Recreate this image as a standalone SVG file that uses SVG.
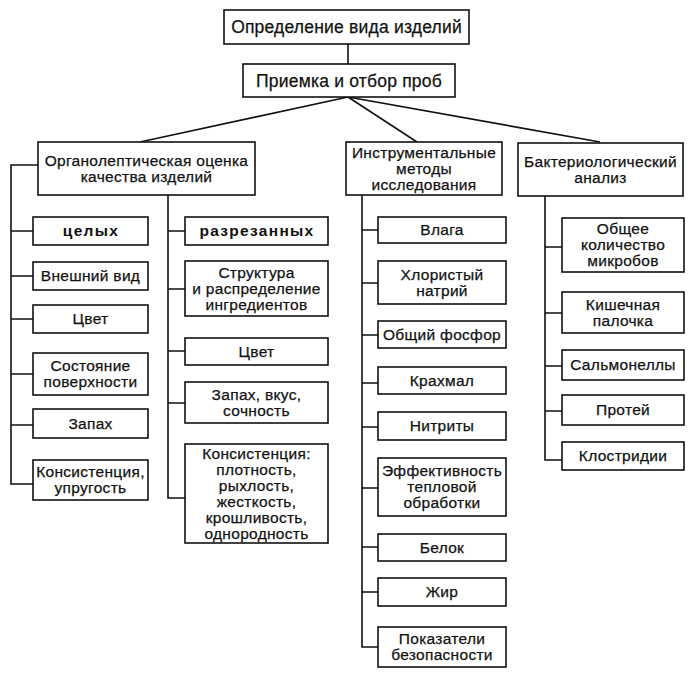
<svg xmlns="http://www.w3.org/2000/svg" width="696" height="674" viewBox="0 0 696 674">
<style>
rect{fill:#fff;stroke:#111;stroke-width:1.6}
text{font-family:"Liberation Sans",Arial,sans-serif;font-size:15.5px;letter-spacing:0.3px;fill:#111;stroke:#111;stroke-width:0.25;text-anchor:middle}
.big{font-size:17.5px;letter-spacing:0.2px}
.sp{font-weight:bold;letter-spacing:1.3px;stroke-width:0}
#connectors path{fill:none;stroke:#111;stroke-width:1.6}
</style>
<rect x="0" y="0" width="696" height="674" style="fill:#fff;stroke:none"/>
<g id="connectors">
<path d="M348,44V64"/>
<path d="M348,97L140,142M348,97L417,142M348,97L600,142"/>
<path d="M38,165H11V484H33M11,231H33M11,276H33M11,319H33M11,374H33M11,425H33"/>
<path d="M168,195V498H185M168,231H185M168,289H185M168,351H185M168,403H185"/>
<path d="M362,195V647H378M362,230H378M362,283H378M362,335H378M362,383H378M362,427H378M362,488H378M362,547H378M362,592H378"/>
<path d="M545,196V460H562M545,247H562M545,313H562M545,366H562M545,411H562"/>
</g>
<g id="n_top"><rect x="224" y="10" width="245" height="34"/><text class="big" x="346.5" y="33">Определение вида изделий</text></g>
<g id="n_priemka"><rect x="243" y="64" width="212" height="33"/><text class="big" x="349" y="87">Приемка и отбор проб</text></g>
<g id="n_organo"><rect x="38" y="142" width="217" height="53"/><text x="146.5" y="166">Органолептическая оценка</text><text x="146.5" y="182">качества изделий</text></g>
<g id="n_instr"><rect x="346" y="142" width="156" height="53"/><text x="424" y="158">Инструментальные</text><text x="424" y="174">методы</text><text x="424" y="190">исследования</text></g>
<g id="n_bakt"><rect x="518" y="143" width="165" height="53"/><text x="600.5" y="167">Бактериологический</text><text x="600.5" y="183">анализ</text></g>

<g id="n_celyh"><rect x="33" y="217" width="115" height="28"/><text class="sp" x="91" y="236">целых</text></g>
<g id="n_vneshniy"><rect x="33" y="262" width="115" height="28"/><text x="90.5" y="281">Внешний вид</text></g>
<g id="n_cvet1"><rect x="33" y="305" width="115" height="28"/><text x="90.5" y="324">Цвет</text></g>
<g id="n_sostoyanie"><rect x="33" y="353" width="115" height="42"/><text x="90.5" y="371">Состояние</text><text x="90.5" y="387">поверхности</text></g>
<g id="n_zapah1"><rect x="33" y="409" width="115" height="29"/><text x="90.5" y="428.5">Запах</text></g>
<g id="n_konsist1"><rect x="33" y="460" width="115" height="40"/><text x="90.5" y="477">Консистенция,</text><text x="90.5" y="493">упругость</text></g>

<g id="n_razrez"><rect x="185" y="217" width="143" height="28"/><text class="sp" x="257" y="236">разрезанных</text></g>
<g id="n_struktura"><rect x="185" y="261" width="143" height="55"/><text x="256.5" y="278">Структура</text><text x="256.5" y="294">и распределение</text><text x="256.5" y="310">ингредиентов</text></g>
<g id="n_cvet2"><rect x="185" y="338" width="143" height="27"/><text x="256.5" y="356.5">Цвет</text></g>
<g id="n_zapah2"><rect x="185" y="382" width="143" height="41"/><text x="256.5" y="399.5">Запах, вкус,</text><text x="256.5" y="415.5">сочность</text></g>
<g id="n_konsist2"><rect x="185" y="444" width="143" height="99"/><text x="256.5" y="459">Консистенция:</text><text x="256.5" y="475">плотность,</text><text x="256.5" y="491">рыхлость,</text><text x="256.5" y="507">жесткость,</text><text x="256.5" y="523">крошливость,</text><text x="256.5" y="539">однородность</text></g>

<g id="n_vlaga"><rect x="378" y="217" width="128" height="26"/><text x="442" y="235">Влага</text></g>
<g id="n_hlor"><rect x="378" y="261" width="128" height="43"/><text x="442" y="279.5">Хлористый</text><text x="442" y="295.5">натрий</text></g>
<g id="n_fosfor"><rect x="378" y="321" width="128" height="27"/><text x="442" y="339.5">Общий фосфор</text></g>
<g id="n_krahmal"><rect x="378" y="367" width="128" height="27"/><text x="442" y="385.5">Крахмал</text></g>
<g id="n_nitrity"><rect x="378" y="412" width="128" height="28"/><text x="442" y="431">Нитриты</text></g>
<g id="n_effekt"><rect x="378" y="458" width="128" height="58"/><text x="442" y="476">Эффективность</text><text x="442" y="492">тепловой</text><text x="442" y="508">обработки</text></g>
<g id="n_belok"><rect x="378" y="534" width="128" height="27"/><text x="442" y="552.5">Белок</text></g>
<g id="n_zhir"><rect x="378" y="578" width="128" height="28"/><text x="442" y="597">Жир</text></g>
<g id="n_pokaz"><rect x="378" y="627" width="128" height="40"/><text x="442" y="644">Показатели</text><text x="442" y="660">безопасности</text></g>

<g id="n_obshee"><rect x="562" y="218" width="122" height="54"/><text x="623" y="234">Общее</text><text x="623" y="250">количество</text><text x="623" y="266">микробов</text></g>
<g id="n_kishech"><rect x="562" y="292" width="122" height="41"/><text x="623" y="309.5">Кишечная</text><text x="623" y="325.5">палочка</text></g>
<g id="n_salm"><rect x="562" y="350" width="122" height="30"/><text x="623" y="370">Сальмонеллы</text></g>
<g id="n_protey"><rect x="562" y="395" width="122" height="30"/><text x="623" y="415">Протей</text></g>
<g id="n_klostr"><rect x="562" y="442" width="122" height="28"/><text x="623" y="461">Клостридии</text></g>
</svg>
